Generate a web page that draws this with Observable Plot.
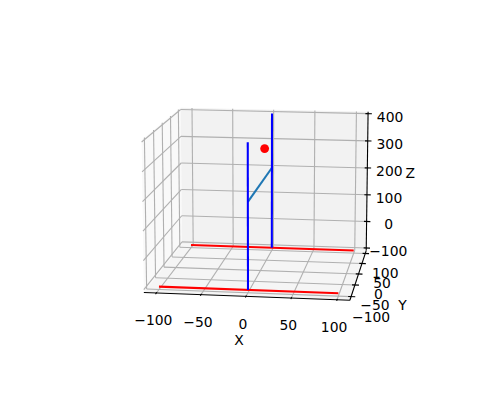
<!DOCTYPE html>
<html><head><meta charset="utf-8">
<style>html,body{margin:0;padding:0;background:#fff}svg{display:block}</style>
<script src="https://cdn.jsdelivr.net/npm/d3@7"></script>
<script src="https://cdn.jsdelivr.net/npm/@observablehq/plot@0.6"></script>
</head><body><div id="chart"></div>
<script>
// Data values
const xTicks=[-100,-50,0,50,100];
const yTicks=[-100,-50,0,50,100];
const zTicks=[-100,0,100,200,300,400];
const xLim=[-114,114], yLim=[-115,115], zLim=[-110,407];
const redSegments=[[[-100,-100,-100],[100,-100,-100]],[[-100,100,-100],[100,100,-100]]];
const blueSegments=[[[0,-100,-100],[0,-100,400]],[[0,100,-100],[0,100,400]]];
const tealLine=[[0,-100,200],[0,100,200]];
const redPoint=[[0,35,306]];

// Camera
const elev=12*Math.PI/180, azim=-82*Math.PI/180, dist=10, focal=1665, cx=260, cy=198;
const k=1.8294640721620434*25/24/Math.sqrt(41);
const box=[4*k,4*k,3*k];
const R=box.map(b=>b/2);
const w=[Math.cos(elev)*Math.cos(azim),Math.cos(elev)*Math.sin(azim),Math.sin(elev)];
const norm=v=>{const n=Math.hypot(...v);return v.map(a=>a/n)};
const cross=(a,b)=>[a[1]*b[2]-a[2]*b[1],a[2]*b[0]-a[0]*b[2],a[0]*b[1]-a[1]*b[0]];
const dot=(a,b)=>a[0]*b[0]+a[1]*b[1]+a[2]*b[2];
const u=norm(cross([0,0,1],w)), v=cross(w,u);
function proj([x,y,z]){
  const p=[(x-xLim[0])/(xLim[1]-xLim[0])*box[0]-R[0],(y-yLim[0])/(yLim[1]-yLim[0])*box[1]-R[1],(z-zLim[0])/(zLim[1]-zLim[0])*box[2]-R[2]];
  const d=dist-dot(p,w);
  return [cx+focal*dot(p,u)/d, cy-focal*dot(p,v)/d];
}
const P=p=>{const q=proj(p);return {px:q[0],py:q[1]}};
const seg=(a,b)=>{const A=proj(a),B=proj(b);return {x1:A[0],y1:A[1],x2:B[0],y2:B[1]}};
const [x0,x1]=xLim,[y0,y1]=yLim,[z0,z1]=zLim;

// Panes
const paneLeft=[[x0,y0,z0],[x0,y1,z0],[x0,y1,z1],[x0,y0,z1]].map(P);
const paneBack=[[x0,y1,z0],[x1,y1,z0],[x1,y1,z1],[x0,y1,z1]].map(P);
const paneFloor=[[x0,y0,z0],[x1,y0,z0],[x1,y1,z0],[x0,y1,z0]].map(P);
// Grid
const grid=[
  ...xTicks.flatMap(t=>[seg([t,y0,z0],[t,y1,z0]),seg([t,y1,z0],[t,y1,z1])]),
  ...yTicks.flatMap(t=>[seg([x1,t,z0],[x0,t,z0]),seg([x0,t,z0],[x0,t,z1])]),
  ...zTicks.flatMap(t=>[seg([x0,y0,t],[x0,y1,t]),seg([x0,y1,t],[x1,y1,t])])
];
// Axis lines and ticks
const axes=[seg([x0,y0,z0],[x1,y0,z0]),seg([x1,y0,z0],[x1,y1,z0]),seg([x1,y1,z0],[x1,y1,z1])];
const dy=(y1-y0)*0.02, dx=(x1-x0)*0.02;
const ticks=[
  ...xTicks.map(t=>seg([t,y0+dy*.7,z0],[t,y0-dy,z0])),
  ...yTicks.map(t=>seg([x1-dx*.7,t,z0],[x1+dx,t,z0])),
  ...zTicks.map(t=>seg([x1-dx*.7,y1,t],[x1+dx,y1,t]))
];
const fmt=t=>String(t).replace("-","\u2212");
const labels=[
  ...xTicks.map(t=>{const q=proj([t,y0,z0]);return {px:q[0]-3,py:q[1]+28,t:fmt(t)}}),
  ...yTicks.map(t=>{const q=proj([x1,t,z0]);return {px:q[0]+20,py:q[1]+20.5-t*0.005,t:fmt(t)}}),
  ...zTicks.map(t=>{const q=proj([x1,y1,t]);return {px:q[0]+22,py:q[1]+3.5,t:fmt(t)}})
];
const axisTitles=[
  {t:"X",...P([0,y0,z0]),ox:-7,oy:44},
  {t:"Y",...P([x1,0,z0]),ox:44,oy:32},
  {t:"Z",...P([x1,y1,(z0+z1)/2]),ox:43,oy:-8}
];
const lineOf=(pts,color)=>Plot.line(pts.map(P),{x:"px",y:"py",stroke:color,strokeWidth:2.08,strokeLinecap:"butt"});

const chart=Plot.plot({
  width:500,height:400,margin:0,
  x:{domain:[0,500],range:[0,500],axis:null},
  y:{domain:[0,400],range:[0,400],axis:null},
  marks:[
    Plot.line(paneLeft,{x:"px",y:"py",fill:"#f9f9f9",stroke:"none"}),
    Plot.line(paneBack,{x:"px",y:"py",fill:"#f2f2f2",stroke:"none"}),
    Plot.line(paneFloor,{x:"px",y:"py",fill:"#f5f5f5",stroke:"none"}),
    Plot.link(grid,{x1:"x1",y1:"y1",x2:"x2",y2:"y2",stroke:"#b0b0b0",strokeWidth:1.1}),
    Plot.link(axes,{x1:"x1",y1:"y1",x2:"x2",y2:"y2",stroke:"#000",strokeWidth:1.1}),
    Plot.link(ticks,{x1:"x1",y1:"y1",x2:"x2",y2:"y2",stroke:"#000",strokeWidth:1.1}),
    ...redSegments.map(s=>lineOf(s,"#ff0000")),
    lineOf(tealLine,"#1f77b4"),
    ...blueSegments.map(s=>lineOf(s,"#0000ff")),
    Plot.dot(redPoint.map(P),{x:"px",y:"py",r:4.4,fill:"#ff0000",stroke:"none"}),
    Plot.text(labels,{x:"px",y:"py",text:"t",fontSize:13.9,fontFamily:"DejaVu Sans",fill:"#000",textAnchor:"middle",lineAnchor:"middle"}),
    Plot.text(axisTitles,{x:d=>d.px+d.ox,y:d=>d.py+d.oy,text:"t",fontSize:13.9,fontFamily:"DejaVu Sans",fill:"#000",textAnchor:"middle",lineAnchor:"middle"})
  ]
});
document.getElementById("chart").appendChild(chart);
</script></body></html>
